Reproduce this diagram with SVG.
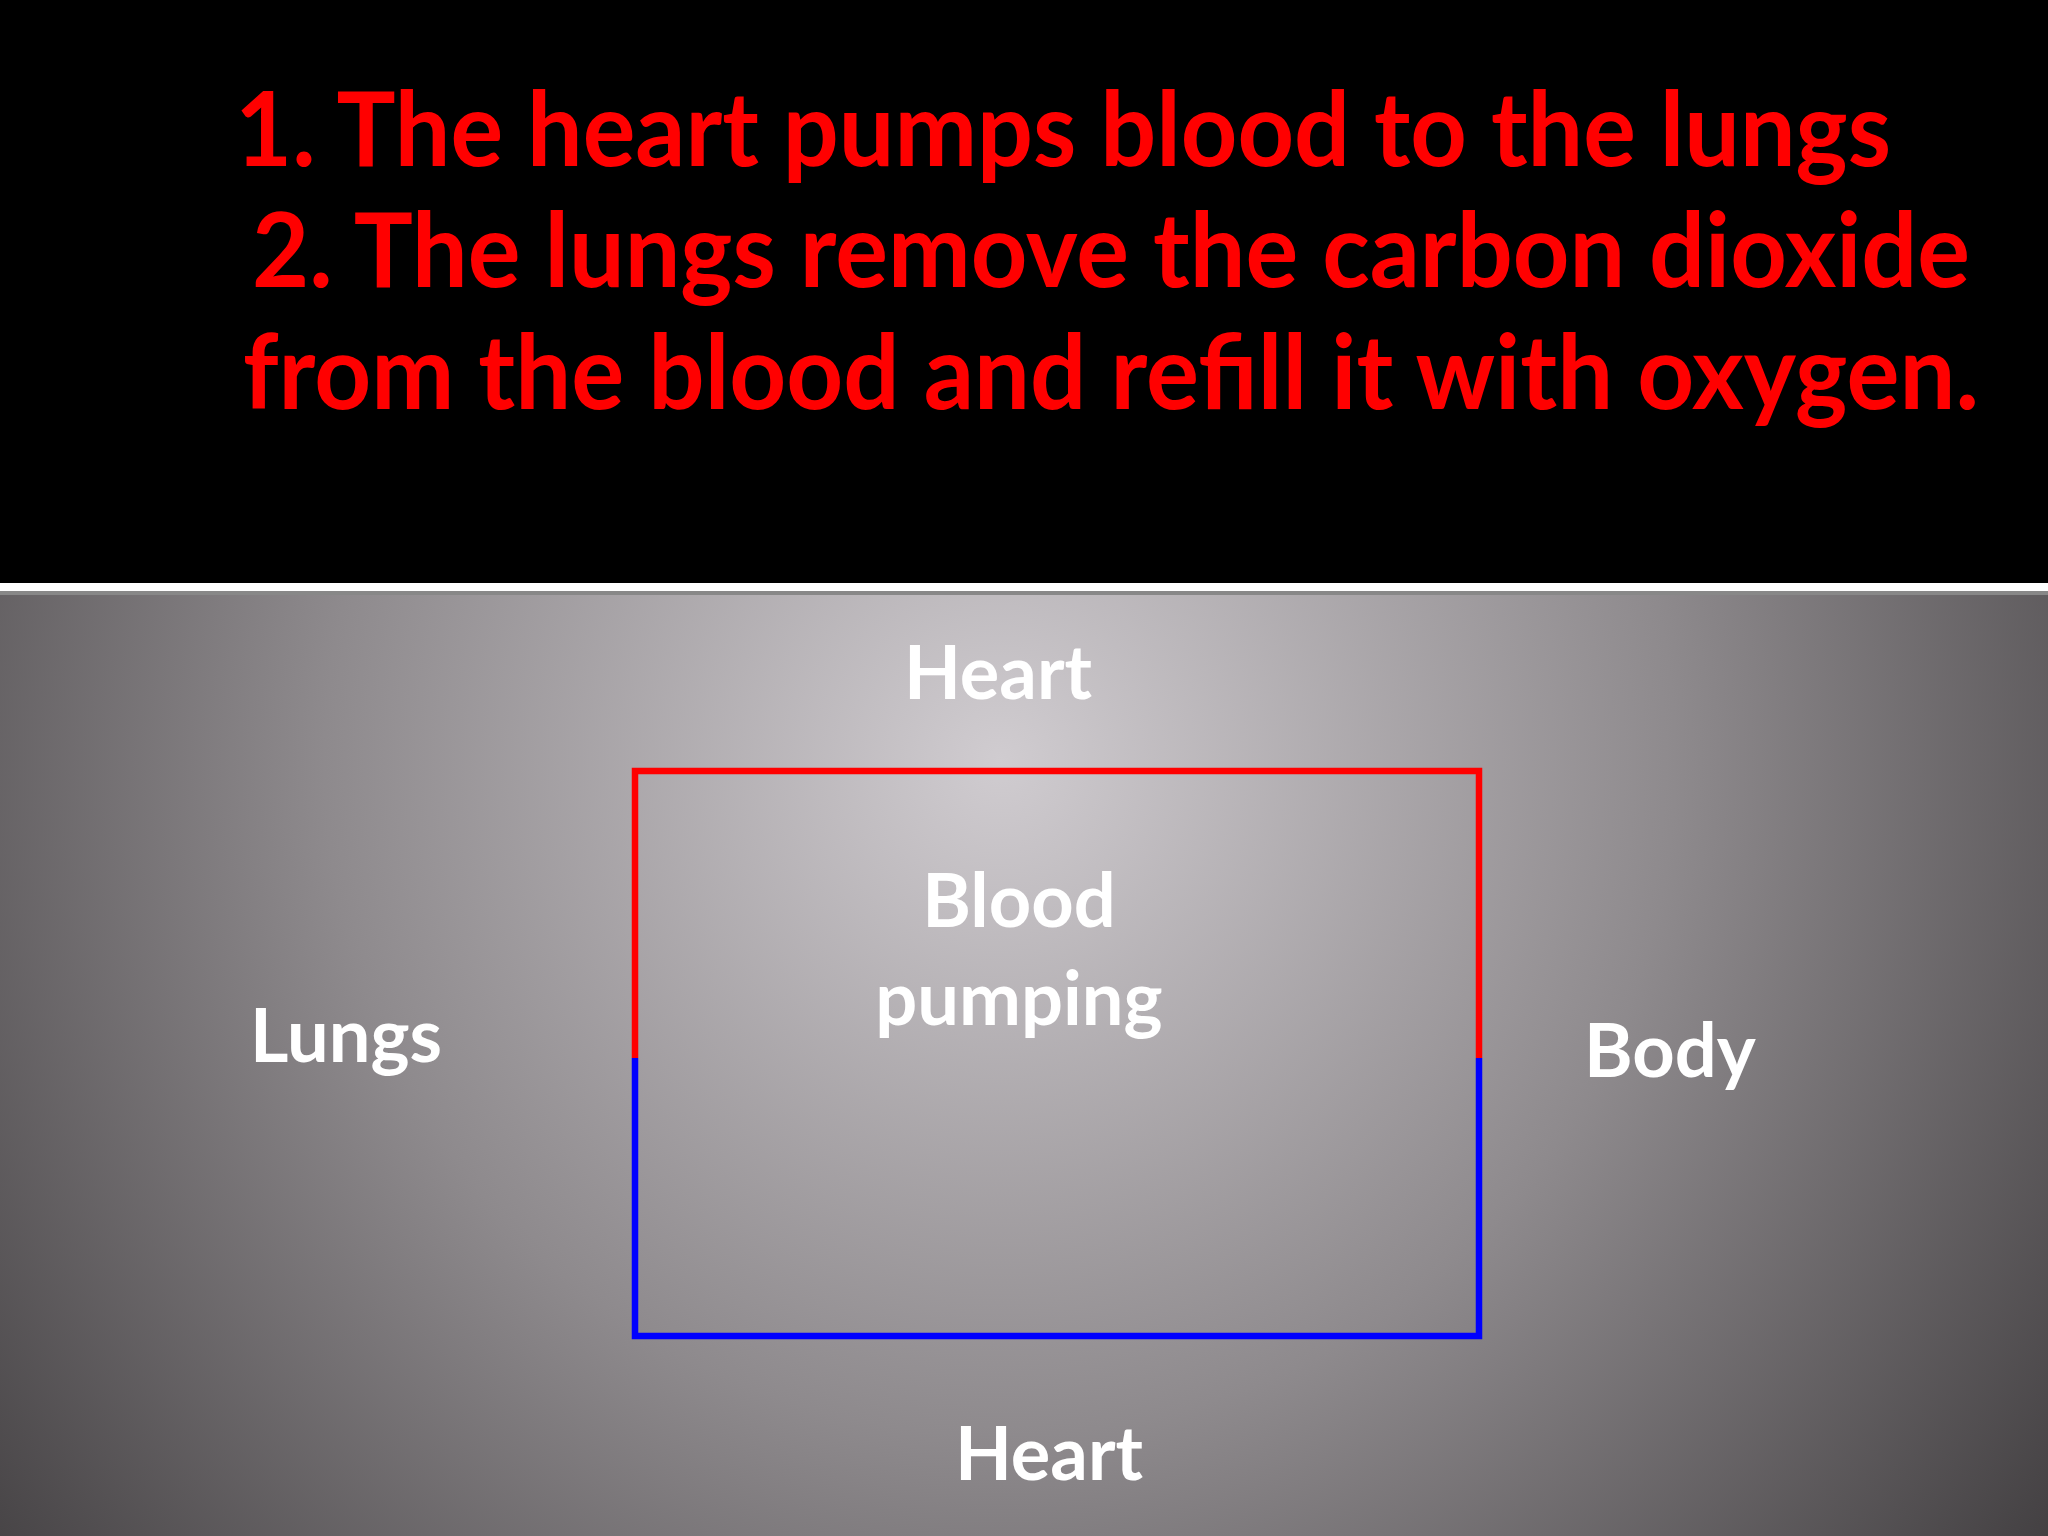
<svg xmlns="http://www.w3.org/2000/svg" width="2048" height="1536" viewBox="0 0 2048 1536">
<defs>
<radialGradient id="bg" cx="1000" cy="760" r="1350" gradientUnits="userSpaceOnUse">
<stop offset="0" stop-color="#d0ccd0"/>
<stop offset="0.5" stop-color="#8e8a8d"/>
<stop offset="1" stop-color="#3e3b3d"/>
</radialGradient>
<style>
.t{font-family:Lato,"Open Sans",sans-serif;font-weight:bold;fill:#ff0000;font-size:104px}
.l{font-family:Lato,"Open Sans",sans-serif;font-weight:bold;fill:#ffffff;font-size:74px;text-anchor:middle}
</style>
</defs>
<rect width="2048" height="1536" fill="url(#bg)"/>
<rect width="2048" height="583" fill="#000"/>
<rect y="583" width="2048" height="8" fill="#fff"/>
<rect y="591" width="2048" height="4" fill="#888"/>
<text class="t" x="235" y="166" textLength="1656" lengthAdjust="spacingAndGlyphs">1. The heart pumps blood to the lungs</text>
<text class="t" x="252" y="287" textLength="1718" lengthAdjust="spacingAndGlyphs">2. The lungs remove the carbon dioxide</text>
<text class="t" x="243" y="409" textLength="1736" lengthAdjust="spacingAndGlyphs">from the blood and refill it with oxygen.</text>
<g id="connectors" fill="none" stroke-width="6.5">
<polyline points="635,1058 635,771 1479,771 1479,1058" stroke="#ff0000"/>
<polyline points="635,1058 635,1336 1479,1336 1479,1058" stroke="#0000ff"/>
</g>
<g id="heart-top"><text class="l" x="998" y="699">Heart</text></g>
<g id="blood"><text class="l" x="1019" y="927">Blood</text><text class="l" x="1019" y="1025">pumping</text></g>
<g id="lungs"><text class="l" x="346" y="1062">Lungs</text></g>
<g id="body"><text class="l" x="1670" y="1077">Body</text></g>
<g id="heart-bottom"><text class="l" x="1049" y="1480">Heart</text></g>
</svg>
